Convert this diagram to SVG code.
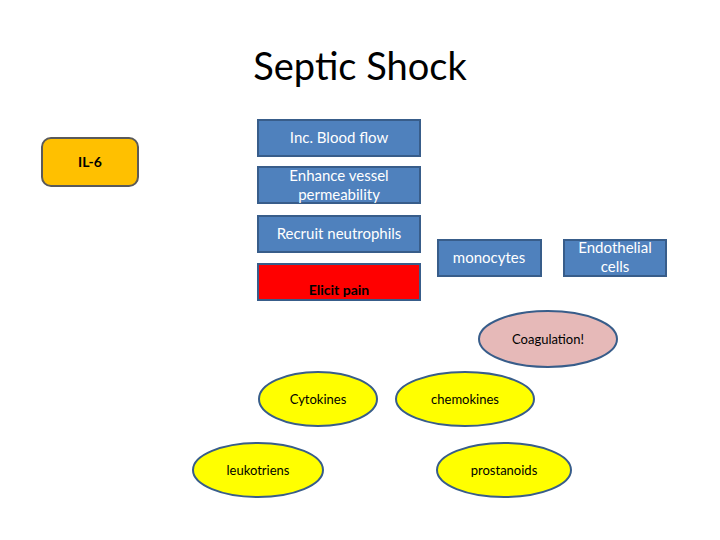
<svg xmlns="http://www.w3.org/2000/svg" width="720" height="540" viewBox="0 0 720 540">
<style>
text{font-family:Lato,"Liberation Sans",sans-serif;text-anchor:middle}
.b{fill:#4f81bd;stroke:#385d8a;stroke-width:2}
.bt{fill:#fff;font-size:15px}
.e{fill:#ffff00;stroke:#385d8a;stroke-width:2}
.et{fill:#000;font-size:13px}
</style>
<rect width="720" height="540" fill="#fff"/>
<text x="360" y="80" font-size="38" fill="#000">Septic Shock</text>
<g id="il6"><rect x="42" y="138" width="96" height="48" rx="9" fill="#ffc000" stroke="#5a5a5a" stroke-width="2"/><text x="90" y="167" font-size="14" font-weight="bold">IL-6</text></g>
<g id="blood"><rect class="b" x="258" y="120" width="162" height="36"/><text class="bt" x="339" y="143">Inc. Blood flow</text></g>
<g id="perm"><rect class="b" x="258" y="167" width="162" height="36"/><text class="bt" x="339" y="181">Enhance vessel</text><text class="bt" x="339" y="200">permeability</text></g>
<g id="recruit"><rect class="b" x="258" y="216" width="162" height="36"/><text class="bt" x="339" y="239">Recruit neutrophils</text></g>
<g id="pain"><rect x="258" y="264" width="162" height="36" fill="#ff0000" stroke="#385d8a" stroke-width="2"/><text x="339" y="295" font-size="14" font-weight="bold">Elicit pain</text></g>
<g id="mono"><rect class="b" x="438" y="240" width="103" height="36"/><text class="bt" x="489" y="263">monocytes</text></g>
<g id="endo"><rect class="b" x="564" y="240" width="102" height="36"/><text class="bt" x="615" y="253">Endothelial</text><text class="bt" x="615" y="272">cells</text></g>
<g id="coag"><ellipse cx="548" cy="339" rx="69" ry="28" fill="#e6b9b8" stroke="#385d8a" stroke-width="2"/><text class="et" x="548" y="344">Coagulation!</text></g>
<g id="cyto"><ellipse class="e" cx="318" cy="399" rx="59" ry="27"/><text class="et" x="318" y="404">Cytokines</text></g>
<g id="chemo"><ellipse class="e" cx="465" cy="399" rx="69" ry="27"/><text class="et" x="465" y="404">chemokines</text></g>
<g id="leuko"><ellipse class="e" cx="258" cy="470" rx="65" ry="27"/><text class="et" x="258" y="475">leukotriens</text></g>
<g id="prost"><ellipse class="e" cx="504" cy="470" rx="67" ry="27"/><text class="et" x="504" y="475">prostanoids</text></g>
<g id="connectors"/>
</svg>
